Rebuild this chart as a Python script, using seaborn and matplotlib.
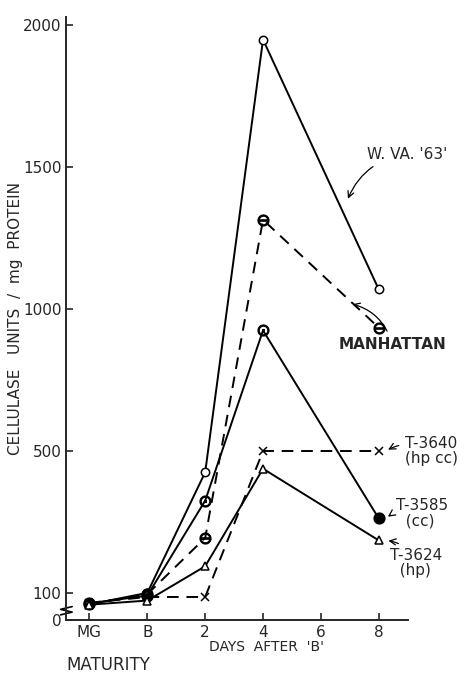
import numpy as np
import matplotlib
matplotlib.use("Agg")
import matplotlib.pyplot as plt
import seaborn as sns

# x positions: MG, B, then days after 'B'
stages = ["MG", "B", "2", "4", "6", "8"]
x_pts = [0, 1, 2, 3, 5]

wva63 = [58, 100, 440, 1950, 1070]
manhattan = [60, 95, 255, 1315, 935]
t3585 = [62, 90, 360, 925, 310]
t3640 = [64, 85, 85, 500, 500]
t3624 = [57, 72, 175, 450, 248]

y_ticks = [0, 100, 500, 1000, 1500, 2000]


# broken axis: 0-100 squeezed, 100-500 stretched, linear above 500
def fwd(v):
    v = np.asarray(v, dtype=float)
    return np.where(v < 100, -97 + v * 0.97,
                    np.where(v < 500, (v - 100) * 1.25, v))


def inv(d):
    d = np.asarray(d, dtype=float)
    return np.where(d < 0, (d + 97) / 0.97,
                    np.where(d < 500, d / 1.25 + 100, d))


sns.set_style("ticks")
plt.rcParams["font.family"] = ["DejaVu Sans"]

fig = plt.figure(figsize=(4.74, 6.78), dpi=100)
ax = fig.add_axes([0.14, 0.085, 0.72, 0.89])
ax.set_yscale("function", functions=(fwd, inv))

series = [
    (wva63, "-", "o", "white", 6),
    (manhattan, "--", "$\\ominus$", "black", 8),
    (t3585, "-", "$\\odot$", "black", 8),
    (t3640, "--", "x", "black", 6),
    (t3624, "-", "^", "white", 6),
]
for vals, ls, mk, fc, ms in series:
    line = sns.lineplot(x=x_pts, y=vals, ax=ax, color="black", linestyle=ls,
                        linewidth=1.4, marker=mk, markersize=ms,
                        markerfacecolor=fc, markeredgecolor="black",
                        markeredgewidth=0.8 if mk.startswith("$") else 1.1)
    if ls == "--":
        line.lines[-1].set_dashes((6, 4))
# filled end point of T-3585
ax.plot([5], [t3585[-1]], "o", color="black", markersize=6)

ax.set_xlim(-0.4, 5.5)
ax.set_ylim(0, 2030)
ax.set_xticks(range(len(stages)))
ax.set_xticklabels(stages, fontsize=11)
ax.set_yticks(y_ticks)
ax.set_yticklabels([str(t) for t in y_ticks], fontsize=11)
ax.tick_params(direction="in", length=5, width=1.2)
sns.despine(ax=ax)
for s in ["left", "bottom"]:
    ax.spines[s].set_linewidth(1.4)

# axis break mark
ax.plot([-0.5, -0.3, -0.5, -0.3], [20, 30, 40, 50], color="black",
        lw=1.2, clip_on=False, transform=ax.transData)

ax.set_ylabel("CELLULASE   UNITS  /  mg  PROTEIN", fontsize=11, labelpad=0)
fig.text(0.14, 0.012, "MATURITY", fontsize=12)
fig.text(0.44, 0.04, "DAYS  AFTER  'B'", fontsize=10)

arr = dict(arrowstyle="->", color="black", lw=0.9,
           connectionstyle="arc3,rad=0.3")
ax.annotate("W. VA. '63'", xy=(4.45, 1380), xytext=(4.8, 1530),
            fontsize=11, ha="left", arrowprops=arr)
ax.annotate("MANHATTAN", xy=(4.5, 1020), xytext=(4.3, 860),
            fontsize=11, ha="left", fontweight="bold", arrowprops=arr)
ax.annotate("T-3640\n(hp cc)", xy=(5.12, 500), xytext=(5.45, 465),
            fontsize=11, ha="left", arrowprops=arr, linespacing=1.0)
ax.annotate("T-3585\n  (cc)", xy=(5.12, 310), xytext=(5.3, 290),
            fontsize=11, ha="left", arrowprops=arr, linespacing=1.0)
ax.annotate("T-3624\n  (hp)", xy=(5.12, 248), xytext=(5.2, 150),
            fontsize=11, ha="left", arrowprops=arr, linespacing=1.0)

fig.savefig("out.png", dpi=100)
